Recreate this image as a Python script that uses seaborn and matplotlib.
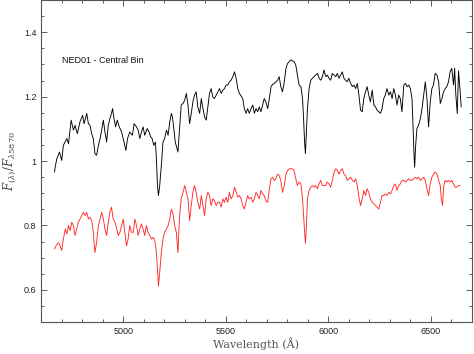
import numpy as np
import pandas as pd
import matplotlib
matplotlib.use("Agg")
import matplotlib.pyplot as plt
from matplotlib.ticker import MultipleLocator, FormatStrFormatter
import seaborn as sns

# %%
# black spectrum (central bin)
wave_black = [4665, 4668, 4676, 4689, 4700, 4708, 4725, 4733, 4746, 4757, 4765, 4776, 4789, 4802,
              4809, 4822, 4830, 4838, 4846, 4854, 4862, 4870, 4879, 4887, 4895, 4903, 4911, 4919,
              4927, 4935, 4943, 4948, 4955, 4963, 4971, 4981, 4992, 5000, 5013, 5021, 5032, 5045,
              5053, 5065, 5073, 5081, 5089, 5097, 5105, 5117, 5126, 5134, 5141, 5149, 5157, 5162,
              5167, 5172, 5178, 5186, 5194, 5202, 5211, 5219, 5227, 5235, 5240, 5246, 5254, 5267,
              5275, 5283, 5292, 5300, 5308, 5316, 5324, 5332, 5340, 5348, 5356, 5364, 5373, 5381,
              5389, 5397, 5405, 5413, 5421, 5429, 5437, 5445, 5454, 5462, 5470, 5478, 5486, 5494,
              5502, 5510, 5518, 5526, 5535, 5543, 5551, 5559, 5567, 5583, 5591, 5599, 5607, 5615,
              5624, 5632, 5640, 5648, 5656, 5664, 5672, 5680, 5688, 5696, 5705, 5713, 5721, 5729,
              5737, 5745, 5753, 5761, 5769, 5777, 5786, 5794, 5802, 5810, 5818, 5826, 5834, 5842,
              5850, 5858, 5867, 5875, 5880, 5885, 5889, 5894, 5899, 5907, 5915, 5923, 5931, 5939,
              5948, 5956, 5964, 5972, 5980, 5988, 5996, 6004, 6012, 6020, 6029, 6037, 6045, 6053,
              6061, 6069, 6077, 6085, 6093, 6101, 6110, 6118, 6126, 6134, 6142, 6150, 6158, 6166,
              6174, 6182, 6190, 6198, 6206, 6215, 6223, 6231, 6239, 6247, 6255, 6263, 6271, 6279,
              6287, 6296, 6304, 6312, 6320, 6328, 6336, 6344, 6352, 6360, 6369, 6377, 6385, 6393,
              6401, 6409, 6414, 6419, 6422, 6427, 6433, 6441, 6450, 6458, 6466, 6474, 6482, 6490,
              6498, 6506, 6514, 6522, 6531, 6539, 6547, 6555, 6563, 6571, 6579, 6587, 6595, 6603,
              6612, 6617, 6623, 6630, 6636, 6644, 6649]
flux_black = [0.966, 0.981, 1.007, 1.028, 1.002, 1.049, 1.070, 1.054, 1.127, 1.096, 1.111, 1.085, 1.122, 1.142,
              1.116, 1.148, 1.116, 1.111, 1.085, 1.070, 1.023, 1.018, 1.049, 1.070, 1.096, 1.127, 1.090, 1.059,
              1.111, 1.132, 1.148, 1.163, 1.132, 1.106, 1.127, 1.106, 1.090, 1.070, 1.033, 1.070, 1.090, 1.080,
              1.116, 1.106, 1.096, 1.070, 1.090, 1.106, 1.080, 1.101, 1.090, 1.075, 1.070, 1.049, 1.059, 1.007,
              0.924, 0.893, 0.924, 0.986, 1.059, 1.070, 1.096, 1.080, 1.122, 1.148, 1.137, 1.106, 1.059, 1.028,
              1.101, 1.174, 1.179, 1.189, 1.210, 1.174, 1.116, 1.148, 1.184, 1.205, 1.215, 1.168, 1.148, 1.194,
              1.163, 1.137, 1.127, 1.168, 1.210, 1.225, 1.199, 1.194, 1.205, 1.215, 1.225, 1.210, 1.220, 1.225,
              1.236, 1.236, 1.246, 1.251, 1.262, 1.277, 1.257, 1.225, 1.210, 1.194, 1.163, 1.148, 1.163, 1.148,
              1.163, 1.174, 1.148, 1.163, 1.153, 1.168, 1.153, 1.174, 1.194, 1.184, 1.163, 1.194, 1.231, 1.238,
              1.241, 1.246, 1.251, 1.262, 1.231, 1.215, 1.246, 1.288, 1.303, 1.309, 1.314, 1.311, 1.309, 1.298,
              1.267, 1.236, 1.231, 1.194, 1.132, 1.059, 1.023, 1.090, 1.163, 1.225, 1.251, 1.257, 1.262, 1.267,
              1.272, 1.257, 1.251, 1.262, 1.283, 1.262, 1.267, 1.257, 1.251, 1.272, 1.267, 1.262, 1.272, 1.257,
              1.267, 1.277, 1.257, 1.251, 1.246, 1.257, 1.241, 1.231, 1.236, 1.225, 1.241, 1.205, 1.158, 1.153,
              1.194, 1.215, 1.231, 1.205, 1.184, 1.220, 1.174, 1.168, 1.158, 1.153, 1.148, 1.163, 1.194, 1.205,
              1.225, 1.205, 1.215, 1.194, 1.225, 1.205, 1.174, 1.205, 1.194, 1.153, 1.236, 1.241, 1.231, 1.236,
              1.225, 1.194, 1.111, 1.018, 0.981, 1.049, 1.101, 1.111, 1.132, 1.163, 1.205, 1.246, 1.194, 1.106,
              1.184, 1.225, 1.236, 1.272, 1.267, 1.246, 1.179, 1.194, 1.215, 1.225, 1.231, 1.246, 1.277, 1.288,
              1.236, 1.288, 1.205, 1.147, 1.280, 1.215, 1.168]

# red spectrum
wave_red = [4665, 4672, 4684, 4692, 4700, 4708, 4717, 4725, 4733, 4741, 4749, 4757, 4765, 4773,
            4781, 4789, 4798, 4806, 4814, 4822, 4830, 4838, 4846, 4854, 4862, 4870, 4879, 4887,
            4895, 4903, 4911, 4919, 4927, 4935, 4943, 4951, 4960, 4968, 4976, 4984, 4992, 5000,
            5008, 5016, 5024, 5032, 5040, 5049, 5057, 5065, 5073, 5081, 5089, 5097, 5105, 5113,
            5121, 5130, 5138, 5146, 5154, 5162, 5167, 5172, 5178, 5186, 5194, 5202, 5211, 5219,
            5227, 5235, 5243, 5251, 5259, 5267, 5275, 5283, 5292, 5300, 5308, 5316, 5324, 5332,
            5340, 5348, 5356, 5364, 5373, 5381, 5389, 5397, 5405, 5413, 5421, 5429, 5437, 5445,
            5454, 5462, 5470, 5478, 5486, 5494, 5502, 5510, 5518, 5526, 5535, 5543, 5551, 5559,
            5567, 5575, 5583, 5591, 5599, 5607, 5615, 5624, 5632, 5640, 5648, 5656, 5664, 5672,
            5680, 5688, 5696, 5705, 5713, 5721, 5729, 5737, 5745, 5753, 5761, 5769, 5777, 5786,
            5794, 5802, 5810, 5818, 5826, 5834, 5842, 5850, 5858, 5867, 5875, 5883, 5889, 5894,
            5899, 5907, 5915, 5923, 5931, 5939, 5948, 5956, 5964, 5972, 5980, 5988, 5996, 6004,
            6012, 6020, 6029, 6037, 6045, 6053, 6061, 6069, 6077, 6085, 6093, 6101, 6110, 6118,
            6126, 6134, 6142, 6150, 6158, 6166, 6174, 6182, 6190, 6198, 6206, 6215, 6223, 6231,
            6239, 6247, 6255, 6263, 6271, 6279, 6287, 6296, 6304, 6312, 6320, 6328, 6336, 6344,
            6352, 6360, 6369, 6377, 6385, 6393, 6401, 6409, 6417, 6425, 6433, 6441, 6450, 6458,
            6466, 6474, 6482, 6490, 6498, 6506, 6514, 6522, 6531, 6539, 6547, 6552, 6558, 6564,
            6571, 6579, 6587, 6595, 6603, 6612, 6620, 6628, 6636, 6644]
flux_red = [0.727, 0.737, 0.747, 0.737, 0.722, 0.758, 0.789, 0.774, 0.800, 0.784, 0.810, 0.800, 0.769, 0.789,
            0.810, 0.820, 0.831, 0.841, 0.831, 0.841, 0.820, 0.826, 0.815, 0.779, 0.716, 0.747, 0.800, 0.820,
            0.841, 0.820, 0.789, 0.769, 0.810, 0.841, 0.857, 0.820, 0.810, 0.789, 0.769, 0.779, 0.800, 0.820,
            0.779, 0.737, 0.758, 0.800, 0.779, 0.779, 0.820, 0.800, 0.769, 0.789, 0.805, 0.789, 0.769, 0.800,
            0.779, 0.769, 0.758, 0.763, 0.753, 0.716, 0.664, 0.612, 0.654, 0.716, 0.758, 0.779, 0.789, 0.800,
            0.820, 0.851, 0.836, 0.800, 0.779, 0.716, 0.830, 0.883, 0.903, 0.924, 0.903, 0.883, 0.815, 0.862,
            0.903, 0.924, 0.903, 0.872, 0.851, 0.893, 0.862, 0.831, 0.883, 0.903, 0.893, 0.862, 0.883, 0.877,
            0.862, 0.872, 0.872, 0.857, 0.883, 0.872, 0.888, 0.872, 0.903, 0.883, 0.893, 0.919, 0.903, 0.888,
            0.893, 0.883, 0.862, 0.851, 0.872, 0.893, 0.883, 0.888, 0.872, 0.883, 0.903, 0.893, 0.883, 0.909,
            0.898, 0.893, 0.877, 0.872, 0.914, 0.945, 0.950, 0.940, 0.945, 0.960, 0.955, 0.940, 0.903, 0.924,
            0.960, 0.970, 0.976, 0.976, 0.976, 0.970, 0.945, 0.924, 0.935, 0.929, 0.883, 0.800, 0.745, 0.800,
            0.883, 0.909, 0.919, 0.924, 0.919, 0.924, 0.914, 0.930, 0.940, 0.924, 0.924, 0.924, 0.935, 0.929,
            0.919, 0.940, 0.966, 0.976, 0.971, 0.960, 0.971, 0.976, 0.960, 0.955, 0.940, 0.945, 0.950, 0.940,
            0.935, 0.945, 0.924, 0.888, 0.862, 0.883, 0.909, 0.893, 0.914, 0.903, 0.883, 0.872, 0.867, 0.862,
            0.857, 0.851, 0.872, 0.893, 0.893, 0.898, 0.893, 0.903, 0.898, 0.909, 0.924, 0.929, 0.909, 0.924,
            0.929, 0.940, 0.940, 0.935, 0.940, 0.945, 0.940, 0.940, 0.945, 0.950, 0.945, 0.950, 0.940, 0.945,
            0.950, 0.940, 0.914, 0.893, 0.929, 0.950, 0.960, 0.966, 0.960, 0.940, 0.924, 0.883, 0.862, 0.924,
            0.940, 0.935, 0.940, 0.935, 0.940, 0.929, 0.919, 0.919, 0.924, 0.924]

label_text = "NED01 - Central Bin"

# %%
sns.set_style("ticks")
plt.rcParams["font.family"] = ["Liberation Sans", "DejaVu Sans"]
plt.rcParams["mathtext.fontset"] = "dejavuserif"

fig = plt.figure(figsize=(4.74, 3.54), dpi=100)
ax = fig.add_axes([0.087, 0.09, 0.908, 0.91])

sns.lineplot(x=wave_black, y=flux_black, ax=ax, color="black", lw=0.65, estimator=None)
sns.lineplot(x=wave_red, y=flux_red, ax=ax, color="#ff2a2a", lw=0.65, estimator=None)

ax.set_xlim(4600, 6700)
ax.set_ylim(0.5, 1.5)
ax.xaxis.set_major_locator(MultipleLocator(500))
ax.xaxis.set_minor_locator(MultipleLocator(100))
ax.yaxis.set_major_locator(MultipleLocator(0.2))
ax.yaxis.set_minor_locator(MultipleLocator(0.05))
ax.yaxis.set_major_formatter(FormatStrFormatter("%g"))
ax.tick_params(which="both", direction="in", top=True, right=True, colors="#444444",
               labelcolor="#222222", labelsize=6.5, width=0.6)
ax.tick_params(which="major", length=4)
ax.tick_params(which="minor", length=2.5)
for s in ax.spines.values():
    s.set_color("#555555")
    s.set_linewidth(0.8)

ax.text(4700, 1.312, label_text, fontsize=6.5, va="center", ha="left", color="#111111")

ax.set_xlabel("Wavelength (Å)", family="DejaVu Serif", fontsize=8, color="#555555", labelpad=1)
ax.set_ylabel(r"$F_{(\lambda)}/F_{\lambda 5870}$", fontsize=8.5, color="#444444", labelpad=4)

fig.savefig("out.png", dpi=100)
